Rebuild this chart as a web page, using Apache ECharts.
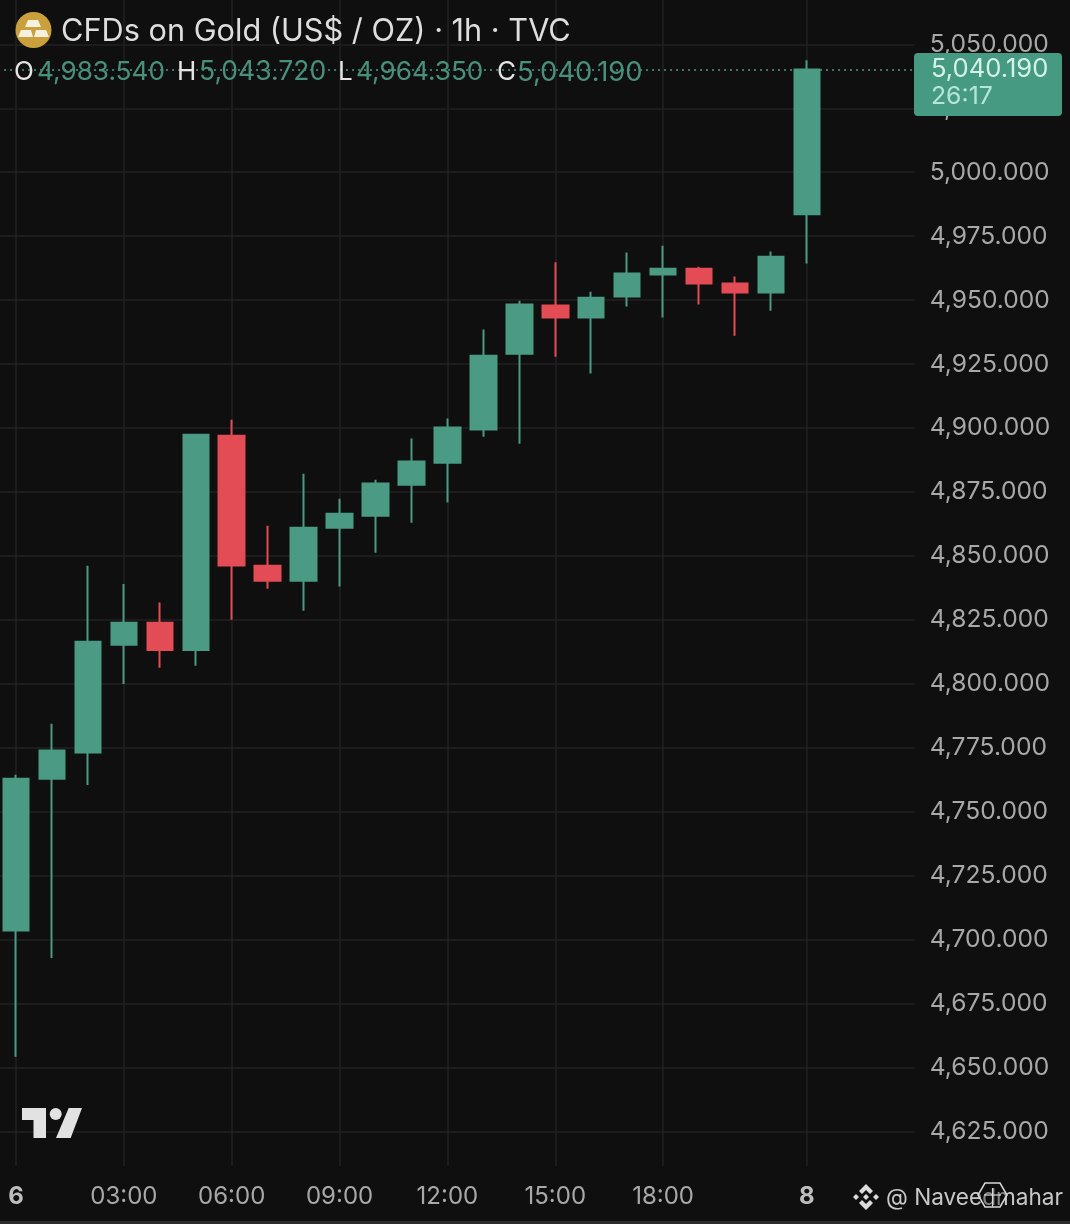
<!DOCTYPE html>
<html><head><meta charset="utf-8">
<style>html,body{margin:0;padding:0;background:#0f0f0f}#c{width:1070px;height:1224px}</style>
<script src="https://cdn.jsdelivr.net/npm/echarts@6/dist/echarts.min.js"></script>
</head><body><div id="c"></div>
<script>
const categories=['','6','01:00','02:00','03:00','04:00','05:00','06:00','07:00','08:00','09:00','10:00','11:00','12:00','13:00','14:00','15:00','16:00','17:00','18:00','19:00','20:00','21:00','8','01','02',' '];
const tickLabels=['6','03:00','06:00','09:00','12:00','15:00','18:00','8'];
const opens=[4703.6,4762.9,4773.2,4815.3,4823.9,4813.3,4897,4846.2,4840.3,4861,4865.7,4877.9,4886.5,4899.4,4929.1,4947.9,4943.2,4951.4,4960,4962.3,4956.5,4953,4983.54];
const closes=[4762.9,4774,4816.5,4823.9,4813.3,4897.4,4846.3,4840.3,4861,4866.5,4878.3,4886.9,4900.2,4928.3,4948.3,4943.2,4950.9,4960.4,4962.3,4956.5,4953,4967,5040.19];
const lows=[4654.3,4692.9,4760.5,4800,4806.3,4807.1,4825.1,4837.2,4828.6,4838.1,4851.3,4863,4870.9,4896.6,4893.9,4927.9,4921.3,4947.5,4943.2,4948.3,4936.1,4945.9,4964.35];
const highs=[4764.5,4784.4,4846.2,4839.1,4831.8,4897.6,4903.3,4861.8,4882.2,4872.4,4879.8,4895.9,4903.7,4938.5,4949.8,4964.8,4953.3,4968.6,4971.3,4963.1,4959.2,4969,5043.72];
const lastPrice=5040.19;
const countdown='26:17';
const titleText='CFDs on Gold (US$ / OZ) · 1h · TVC';
const ohlcLabels=['O','H','L','C'];
const ohlcValues=[4983.54,5043.72,4964.35,5040.19];
const watermark='@ Naveedmahar';

const fmt=v=>v.toLocaleString('en-US',{minimumFractionDigits:3,maximumFractionDigits:3});
const FONT='Inter';
const GREEN='#4a9a84',RED='#e34c55',BG='#0f0f0f',GRID='#222222',LABEL='#a8a8a8';
const candleData=[['-','-','-','-']];
opens.forEach((o,i)=>candleData.push([o,closes[i],lows[i],highs[i]]));
while(candleData.length<categories.length)candleData.push(['-','-','-','-']);

const ohlcX=[[14,37],[177,199],[338,356],[497,517]];
const ohlcSize=[26.2,26.5,26.2,27.4];
const txt=(x,y,text,fontSize,fill,extra)=>({type:'text',x,y,z:20,silent:true,style:Object.assign({text,fontFamily:FONT,fontSize,fill,textVerticalAlign:'middle',textBaseline:'middle'},extra||{})});
const graphics=[
 {type:'rect',z:9,silent:true,shape:{x:0,y:1221,width:1070,height:3},style:{fill:'#2c2c2c'}},
 {type:'circle',z:20,silent:true,shape:{cx:33.5,cy:30,r:18},style:{fill:'#c9a03c'}},
 {type:'polygon',z:21,silent:true,shape:{points:[[28,20],[38,20],[41,27],[25,27]]},style:{fill:'#f5f0e0'}},
 {type:'polygon',z:21,silent:true,shape:{points:[[21,30],[31,30],[33,37],[18,37]]},style:{fill:'#f5f0e0'}},
 {type:'polygon',z:21,silent:true,shape:{points:[[36,30],[46,30],[49,37],[34,37]]},style:{fill:'#f5f0e0'}},
 txt(61,32,titleText,30.7,'#dedede'),
 {type:'rect',z:20,silent:true,shape:{x:914,y:53,width:148,height:63,r:4},style:{fill:'#469a82'}},
 txt(931,69.5,fmt(lastPrice),25.6,'#d4f2e8'),
 txt(931,97,countdown,24.8,'#b5e6d6'),
 {type:'polygon',z:20,silent:true,shape:{points:[[22,1108],[46,1108],[46,1138],[33.5,1138],[33.5,1120],[22,1120]]},style:{fill:'#e2e2e2'}},
 {type:'circle',z:20,silent:true,shape:{cx:55.7,cy:1114,r:6},style:{fill:'#e2e2e2'}},
 {type:'polygon',z:20,silent:true,shape:{points:[[68.7,1108],[82,1108],[70.7,1138],[56,1138]]},style:{fill:'#e2e2e2'}},
 {type:'polygon',z:20,silent:true,shape:{points:[[866,1184],[873,1191],[870,1194],[866,1190],[862,1194],[859,1191]]},style:{fill:'#dcdcdc'}},
 {type:'polygon',z:20,silent:true,shape:{points:[[866,1210],[873,1203],[870,1200],[866,1204],[862,1200],[859,1203]]},style:{fill:'#dcdcdc'}},
 {type:'polygon',z:20,silent:true,shape:{points:[[866,1194],[869,1197],[866,1200],[863,1197]]},style:{fill:'#dcdcdc'}},
 {type:'polygon',z:20,silent:true,shape:{points:[[856,1194],[859,1197],[856,1200],[853,1197]]},style:{fill:'#dcdcdc'}},
 {type:'polygon',z:20,silent:true,shape:{points:[[876,1194],[879,1197],[876,1200],[873,1197]]},style:{fill:'#dcdcdc'}},
 txt(886,1198.5,watermark,22.6,'#c8c8c8'),
 {type:'polygon',z:21,silent:true,shape:{points:[[985,1183],[1000,1183],[1007,1195],[1000,1207],[985,1207],[978,1195]]},style:{fill:'rgba(15,15,15,0.35)',stroke:'#d8d8d8',lineWidth:1.5}},
 {type:'line',z:21,silent:true,shape:{x1:992.5,y1:1188,x2:992.5,y2:1207},style:{stroke:'#d8d8d8',lineWidth:1.2}},
 {type:'line',z:21,silent:true,shape:{x1:984,y1:1195,x2:1001,y2:1195},style:{stroke:'#d8d8d8',lineWidth:1.2}}
];
ohlcLabels.forEach((l,i)=>{
 graphics.push(txt(ohlcX[i][0],72.5,l,26,'#e4e4e4'));
 graphics.push(txt(ohlcX[i][1],72.5,fmt(ohlcValues[i]),ohlcSize[i],'#49907c'));
});

const chart=echarts.init(document.getElementById('c'),null,{renderer:'canvas',width:1070,height:1224});
const leftX=-19.95,plotW=934.7;
chart.setOption({
 animation:false,
 backgroundColor:BG,
 grid:[
  {left:leftX,width:plotW,top:44.3,height:1087.4,containLabel:false,outerBoundsMode:'none'},
  {left:leftX,width:plotW,top:0,height:1166,containLabel:false,outerBoundsMode:'none'}
 ],
 xAxis:[
  {type:'category',gridIndex:0,data:categories,boundaryGap:false,show:false},
  {type:'category',gridIndex:1,data:categories,boundaryGap:false,position:'bottom',
   axisLine:{show:false},axisTick:{show:false},
   splitLine:{show:true,lineStyle:{color:GRID,width:1.5}},
   axisLabel:{interval:(i,v)=>tickLabels.includes(v),margin:19,fontFamily:FONT,fontSize:24,color:LABEL,
    formatter:v=>(v==='6'||v==='8')?`{b|${v}}`:v,
    rich:{b:{fontFamily:FONT,fontSize:24,fontWeight:'bold',color:'#bdbdbd'}}}}
 ],
 yAxis:[
  {type:'value',gridIndex:0,position:'right',min:4625,max:5050,interval:25,
   axisLine:{show:false},axisTick:{show:false},
   splitLine:{show:true,lineStyle:{color:GRID,width:1.5}},
   axisLabel:{show:true,align:'left',margin:15,padding:[0,0,6,0],fontFamily:FONT,fontSize:24.6,color:LABEL,formatter:v=>fmt(v)}},
  {type:'value',gridIndex:1,show:false,min:0,max:1}
 ],
 series:[{
  type:'candlestick',xAxisIndex:0,yAxisIndex:0,data:candleData,barWidth:26,z:5,
  itemStyle:{color:GREEN,color0:RED,borderColor:GREEN,borderColor0:RED,borderWidth:2,borderColorDoji:GREEN},
  markLine:{silent:true,symbol:'none',animation:false,label:{show:false},
   lineStyle:{color:'#4f9d87',type:[2,4],width:1.5},data:[{yAxis:lastPrice}]}
 },{type:'line',xAxisIndex:1,yAxisIndex:1,data:[],silent:true}],
 graphic:graphics
});
</script></body></html>
